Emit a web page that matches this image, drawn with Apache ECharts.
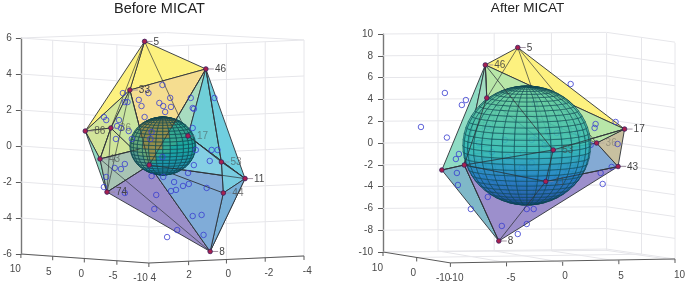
<!DOCTYPE html>
<html><head><meta charset="utf-8">
<style>html,body{margin:0;padding:0;background:#fff}#c{width:685px;height:282px;filter:blur(0.35px)}</style>
<script src="https://cdn.jsdelivr.net/npm/echarts@6/dist/echarts.min.js"></script>
</head><body><div id="c"></div>
<script>
// ---------- data: [x, z] in each panel's axis units ----------
const titles = ['Before MICAT', 'After MICAT'];
const zTicksLeft = [-6,-4,-2,0,2,4,6];
const zTicksRight = [-10,-8,-6,-4,-2,0,2,4,6,8,10];

const hullLeft = {
  5:[4.22,5.81], 46:[1.06,4.28], 33:[4.98,3.11], 86:[7.28,.83], 36:[5.96,1.0], 43:[6.52,-.72],
  74:[6.16,-2.56], c:[3.98,-1.06], h:[4.48,-.17], 17:[1.98,.56], 53:[.26,-.89], 11:[-.96,-1.81], 44:[.16,-2.61], 8:[.84,-5.86]
};
const hullRight = {
  5:[-4.0,8.76], 46:[-6.89,7.16], 33:[-6.76,4.13], 17:[5.51,1.28], 36:[3.02,0], 43:[4.93,-2.16],
  8:[-5.69,-8.99], 86:[-10.76,-2.48], 74:[-8.76,-2.02], 53:[-.84,-.64], 11:[-1.51,-3.53]
};
const facetsLeft = [[5,46,33],[5,33,86],[46,33,'c'],[33,86,36],[33,36,'c'],[86,36,43],[36,43,'h','c'],[86,43,74],[43,74,'c','h'],
  [74,'c',8],['c',11,8],[46,'c',17],[46,17,53],[46,53,11],['c',17,11],[17,53,11],[53,44,11],[11,44,8],['c',44,8]];
const facetsRight = [[5,46,17],[46,33,53,17],[46,86,74],[46,33,74],[33,53,74],[86,74,8],[74,8,43],[74,11,43],
  [36,43,11,53],[17,43,36],[53,17,36],[74,53,11]];
const extraEdgesLeft = [[43,8],[36,74],[5,36],[5,17],[46,53],[74,'c'],[33,74],[53,44]];
const overEdgesLeft = [[33,'c'],[46,'c'],[36,43],[43,'h'],['c',11],[17,11]];
const extraEdgesRight = [[5,33],[5,53],[5,36],[33,36]];
const overEdgesRight = [[46,53],[17,53],[53,74],[74,11],[53,11],[11,8],[11,43],[74,8],[74,86],[33,74],[46,33]];

const labelsLeft = [[5,'5',1],[46,'46',1],[33,'33',1],[86,'86',.8],[36,'36',.55],[43,'43',.6],[74,'74',1],['c','',1],[17,'17',.5],[53,'53',.6],[11,'11',1],[44,'44',.7],[8,'8',1]];
const labelsRight = [[5,'5',1],[46,'46',.9],[33,'',1],[17,'17',1],[36,'36',.35],[43,'43',1],[8,'8',1],[86,'',1],[74,'',1],[53,'53',.7],[11,'11',.5]];

const pointsLeft = [[5.34,2.94],[5.24,2.44],[5.1,2.44],[4.52,2.56],[4.38,2.22],[4.02,2.94],[3.3,3.39],[3.46,2.39],[3.26,2.22],[2.9,2.67],[2.86,2.17],[3.16,1.89],[4.22,1.61],[6.2,1.44],[6.32,1.61],[5.54,1.44],[5.64,1.11],[5.44,1.0],[5.04,.83],[5.7,.39],[4.88,.39],[3.86,.78],[3.92,.39],[1.84,2.67],[.62,2.67],[1.74,2.11],[1.68,2.06],[1.74,1.0],[1.58,-.22],[.76,-.22],[.46,-.22],[.86,-.83],[1.68,-1.06],[1.98,-1.5],[3.3,-.61],[5.24,-1.0],[5.44,-1.28],[5.76,-1.22],[6.2,-1.72],[6.32,-2.28],[3.86,-1.67],[3.26,-1.72],[2.7,-2.0],[1.94,-2.11],[2.24,-2.22],[2.6,-2.44],[2.86,-2.5],[1.02,-2.33],[3.62,-2.72],[5.24,-2.61],[3.72,-3.5],[3.06,-5.06],[1.74,-3.89],[1.28,-3.83],[1.18,-4.94],[2.54,-4.67]];
const pointsRight = [[-10.49,4.59],[-8.62,3.94],[-8.98,3.49],[-12.62,1.47],[-10.31,.5],[-9.24,-1.01],[-9.51,-1.47],[-9.42,-2.75],[-9.33,-3.85],[-8.18,-6.06],[-6.67,-4.95],[-5.42,-7.61],[-3.2,-7.43],[-3.2,-6.06],[-2.58,-6.06],[-4.0,-8.35],[.71,5.41],[-2.31,4.59],[-2.49,3.67],[0,3.49],[4.71,1.93],[2.93,1.74],[2.84,1.38],[4.89,-.09],[3.38,-2.75],[4.36,-2.2],[3.56,-3.76],[.89,-3.21],[1.33,.92],[1.87,-1.47],[2.49,-.18],[-7.47,0],[-2.76,.28],[-1.6,-.18],[-3.64,-2.29],[-2.76,-1.83],[-6.67,1.47],[-5.16,.28],[-.53,.92],[-1.33,1.01],[-2.31,.64],[-3.56,-.92],[-4.89,-1.28],[-6.31,-.83]];

const sphereLeft = [3.28,0,1.70,1.61];   // centre x, centre z, radius x, radius z
const sphereRight = [-3.2,-.23,5.69,5.46];

// bottom tick labels: [text, x position, z position]
const tickTextLeft = [['10',10.89,-6.83],['5',9.16,-7.0],['0',7.48,-7.11],['-5',5.85,-7.22],['-10',4.43,-7.33],['4',3.77,-7.33],['2',1.93,-7.17],['0',-.1,-7.11],['-2',-2.19,-7.06],['-4',-4.17,-6.94]];
const tickTextRight = [['10',-16.5,-11.47],['0',-13.3,-11.93],['-10',-10.64,-12.39],['-10',-9.48,-12.39],['-5',-4.6,-12.39],['0',.2,-12.2],['5',5.2,-12.2],['10',10.4,-12.1]];

// ---------- styling (separate from the data) ----------
const facetColoursLeft = ['#fdf17f','#fdf17f','#f5dd90','#d4e69a','#c9e5a0','#d2e59a','#d0e59a','#8fd8c0','#a8c4b4','#9a8ec8','#84acd8','#a8dcc0','#70cfd8','#70cfe0','#84cfe4','#78d0dc','#78cce0','#78b0d8','#80acd8'];
const facetColoursRight = ['#fdf17f','#b8e6a8','#8fdcc4','#a0dcc0','#b0e0b0','#7fb8c8','#9c8fcc','#9c8fcc','#84aad4','#c8c0a0','#b8e6a8','#84aad4'];
const sphereStopsLeft = [[-1,'#1d86b4'],[0,'#14a5a0'],[1,'#2fb090']];
const sphereStopsRight = [[-1,'#17489c'],[-.45,'#1a80c4'],[0,'#2cbab8'],[1,'#68cc9c']];
// colour the left sphere takes where a facet lies over it: [facet index, colour]
const sphereShadeLeft = [[2,'#8f8a48'],[4,'#63a878'],[6,'#5fa880'],[8,'#4f9a8c'],[11,'#2fa890']];
const EDGE='#2e3238', GRID='#e6e6ea', AXIS='#5a5a5a', TEXT='#4a4a4a', FONT='Liberation Sans, Arial, sans-serif';

function lerpHex(stops,t){
  for(let i=1;i<stops.length;i++){ if(t<=stops[i][0]){
    const a=stops[i-1],b=stops[i],k=(t-a[0])/(b[0]-a[0]);
    const p=s=>[1,3,5].map(j=>parseInt(s.substr(j,2),16));
    const A=p(a[1]),B=p(b[1]);
    return 'rgb('+A.map((v,j)=>Math.round(v+(B[j]-v)*k)).join(',')+')';
  }} return stops[stops.length-1][1];
}
function inside(pt,poly){let r=false;for(let i=0,j=poly.length-1;i<poly.length;j=i++){
  if((poly[i][1]>pt[1])!==(poly[j][1]>pt[1])&&pt[0]<(poly[j][0]-poly[i][0])*(pt[1]-poly[i][1])/(poly[j][1]-poly[i][1])+poly[i][0])r=!r;}return r;}

const grids=[{left:17,top:38,width:287,height:216},{left:383,top:34,width:292,height:218}];
const xAxes=[{gridIndex:0,type:'value',min:-4,max:10.6,inverse:true,show:false},{gridIndex:1,type:'value',min:-16,max:10,show:false}];
function yAxisOf(i,ticks,step,margin){return {gridIndex:i,type:'value',min:ticks[0],max:ticks[ticks.length-1],interval:step,
  axisLine:{show:true,onZero:false,lineStyle:{color:'#777',width:1.4}},axisTick:{show:true,length:5,lineStyle:{color:AXIS}},
  axisLabel:{color:TEXT,fontSize:10,fontFamily:FONT,margin:margin},splitLine:{show:false}};}

function line(p,q,color,w,op){return {type:'line',shape:{x1:p[0],y1:p[1],x2:q[0],y2:q[1]},style:{stroke:color,lineWidth:w,opacity:op==null?1:op},silent:true};}

function custom(i,z,data,renderItem){return {type:'custom',xAxisIndex:i,yAxisIndex:i,z:z,clip:false,silent:true,data:data,renderItem:renderItem};}

function frameLeft(){
  return custom(0,1,[[0]],(p,api)=>{
    const c=api.coord.bind(api),ch=[];
    const gx=[8.96,7.33,5.65,4.0,1.95,0,-2,-4], tilt=x=>x>=4?(10.6-x)/6.6*-.5:-.5+(4-x)/8*.39;
    zTicksLeft.forEach(z=>{ch.push(line(c([10.6,z]),c([4,z-.5]),GRID,1));ch.push(line(c([4,z-.5]),c([-4,z-.11]),GRID,1));});
    gx.forEach(x=>ch.push(line(c([x,-6+tilt(x)]),c([x,6+tilt(x)]),GRID,1)));
    ch.push(line(c([10.6,6]),c([3.1,6.3]),GRID,1));ch.push(line(c([3.1,6.3]),c([-4,5.89]),GRID,1));
    ch.push(line(c([10.6,-6]),c([4,-6.5]),AXIS,1));ch.push(line(c([4,-6.5]),c([-4,-6.11]),AXIS,1));
    gx.forEach(x=>{const a=c([x,-6+tilt(x)]);ch.push(line(a,[a[0],a[1]+4],AXIS,1));});
    const a=c([10.6,-6]);ch.push(line(a,[a[0],a[1]+4],AXIS,1));
    tickTextLeft.forEach(t=>{const q=c([t[1],t[2]]);ch.push({type:'text',x:q[0],y:q[1],style:{text:t[0],fill:TEXT,font:'10px '+FONT,textAlign:'center',textVerticalAlign:'middle'}});});
    return {type:'group',children:ch};
  });
}
function frameRight(){
  return custom(1,1,[[0]],(p,api)=>{
    const c=api.coord.bind(api),ch=[];
    zTicksRight.forEach(z=>{ch.push(line(c([-16,z]),c([3.91,z+.15]),GRID,1));ch.push(line(c([3.91,z+.15]),c([10,z-.75]),GRID,1));});
    [-11.1,-6.1,-1,3.91].forEach(x=>ch.push(line(c([x,-9.9]),c([x,10.1]),GRID,1)));
    [7.02,10].forEach(x=>ch.push(line(c([x,x>9?-10.64:-10.2]),c([x,x>9?9.2:9.7]),GRID,1)));
    ch.push(line(c([-16,-10]),c([3.91,-9.73]),GRID,1));ch.push(line(c([3.91,-9.73]),c([10,-10.64]),GRID,1));
    [[-11.1,-9.9,-5.1,-10.95],[-6.1,-9.9,0,-10.95],[-1,-9.9,5,-10.85],[-13,-10.5,7.02,-10.2]].forEach(s=>ch.push(line(c([s[0],s[1]]),c([s[2],s[3]]),GRID,1)));
    ch.push(line(c([-16,-10]),c([-10,-11]),AXIS,1));ch.push(line(c([-10,-11]),c([10,-10.64]),AXIS,1));
    [[-13,-10.5],[-10,-11],[-5,-10.95],[0,-10.9],[5,-10.75],[10,-10.64],[-16,-10]].forEach(t=>{const a=c(t);ch.push(line(a,[a[0],a[1]+4],AXIS,1));});
    tickTextRight.forEach(t=>{const q=c([t[1],t[2]]);ch.push({type:'text',x:q[0],y:q[1],style:{text:t[0],fill:TEXT,font:'10px '+FONT,textAlign:'center',textVerticalAlign:'middle'}});});
    return {type:'group',children:ch};
  });
}
function facetLayer(i,z,hull,facets,colours,indices,alpha,edge){
  return custom(i,z,indices.map(k=>[k]),(p,api)=>{
    const k=api.value(0);
    return {type:'polygon',shape:{points:facets[k].map(v=>api.coord(hull[v]))},
      style:{fill:colours[k],opacity:alpha,stroke:edge?EDGE:null,lineWidth:edge?.9:0}};
  });
}
function edgeLayer(i,z,hull,edges,op){
  return custom(i,z,edges.map((e,k)=>[k]),(p,api)=>{
    const e=edges[api.value(0)];return line(api.coord(hull[e[0]]),api.coord(hull[e[1]]),EDGE,.9,op);
  });
}
function sphereLayer(i,z,s,stops,alpha,lw,N,M,elev,shade){
  return custom(i,z,[s],(p,api)=>{
    const ce=Math.cos(elev),se=Math.sin(elev);
    const P=(th,ph)=>{const X=Math.cos(ph)*Math.sin(th),Y=Math.sin(ph)*ce-Math.cos(ph)*Math.cos(th)*se;return api.coord([s[0]+s[2]*X,s[1]+s[3]*Y]);};
    const shades=shade?shade.map(e=>({poly:facetsLeft[e[0]].map(v=>api.coord(hullLeft[v])),col:e[1]})):[];
    const back=[],front=[];
    for(let a=0;a<N;a++)for(let b=0;b<M;b++){
      const t0=a/N*2*Math.PI,t1=(a+1)/N*2*Math.PI,p0=-Math.PI/2+b/M*Math.PI,p1=-Math.PI/2+(b+1)/M*Math.PI;
      const tm=(t0+t1)/2,pm=(p0+p1)/2,f=Math.cos(pm)*Math.cos(tm)*ce+Math.sin(pm)*se;
      const poly={type:'polygon',shape:{points:[P(t0,p0),P(t1,p0),P(t1,p1),P(t0,p1)]}};
      if(f>0){
        const mid=P(tm,pm),hit=shades.find(e=>inside(mid,e.poly));
        poly.style={fill:hit?hit.col:lerpHex(stops,Math.sin(pm)),opacity:alpha,stroke:'#0e4450',lineWidth:lw};front.push(poly);
      } else {poly.style={fill:'none',stroke:'#0e4450',lineWidth:lw*.7,opacity:.5};back.push(poly);}
    }
    return {type:'group',children:back.concat(front)};
  });
}
function pointLayer(i,z,pts){return {type:'scatter',xAxisIndex:i,yAxisIndex:i,z:z,clip:false,silent:true,data:pts,symbol:'circle',symbolSize:5.5,
  itemStyle:{color:'rgba(0,0,0,0)',borderColor:'#3a3fd0',borderWidth:1}};}
function vertexLayer(i,z,hull,labels){
  return custom(i,z,labels.map(l=>hull[l[0]].concat([labels.indexOf(l)])),(p,api)=>{
    const q=api.coord([api.value(0),api.value(1)]),l=labels[api.value(2)],ch=[];
    if(l[1]){ch.push(line([q[0]+2,q[1]],[q[0]+8,q[1]],'#9a8a9a',.9,l[2]));
      ch.push({type:'text',x:q[0]+9,y:q[1]+.5,style:{text:l[1],fill:'#444',opacity:l[2],font:'10px '+FONT,textAlign:'left',textVerticalAlign:'middle'}});}
    ch.push({type:'circle',shape:{cx:q[0],cy:q[1],r:2.3},style:{fill:'#a8204e',stroke:'#3a2060',lineWidth:.8}});
    return {type:'group',children:ch};
  });
}
const allLeft=facetsLeft.map((f,k)=>k), allRight=facetsRight.map((f,k)=>k);
const option={
  animation:false,
  title:[{text:titles[0],left:154.5,top:-4,textAlign:'center',textStyle:{fontFamily:FONT,fontSize:14.5,fontWeight:'normal',color:'#222'}},
         {text:titles[1],left:522.5,top:-4,textAlign:'center',textStyle:{fontFamily:FONT,fontSize:13.5,fontWeight:'normal',color:'#222'}}],
  grid:grids,xAxis:xAxes,yAxis:[yAxisOf(0,zTicksLeft,2,9),yAxisOf(1,zTicksRight,2,10)],
  series:[
    frameLeft(),frameRight(),
    facetLayer(0,3,hullLeft,facetsLeft,facetColoursLeft,allLeft,1,true),
    edgeLayer(0,4,hullLeft,extraEdgesLeft,.75),
    sphereLayer(0,5,sphereLeft,sphereStopsLeft,.95,.65,28,24,.12,sphereShadeLeft),
    edgeLayer(0,7,hullLeft,overEdgesLeft,.8),
    pointLayer(0,8,pointsLeft),
    vertexLayer(0,9,hullLeft,labelsLeft),
    facetLayer(1,3,hullRight,facetsRight,facetColoursRight,allRight,1,true),
    edgeLayer(1,4,hullRight,extraEdgesRight,.75),
    pointLayer(1,5,pointsRight),
    sphereLayer(1,6,sphereRight,sphereStopsRight,.86,.6,32,30,.12),
    edgeLayer(1,7,hullRight,overEdgesRight,.85),
    vertexLayer(1,9,hullRight,labelsRight)
  ]
};
const chart=echarts.init(document.getElementById('c'),null,{renderer:'canvas',width:685,height:282});
chart.setOption(option);
</script></body></html>
